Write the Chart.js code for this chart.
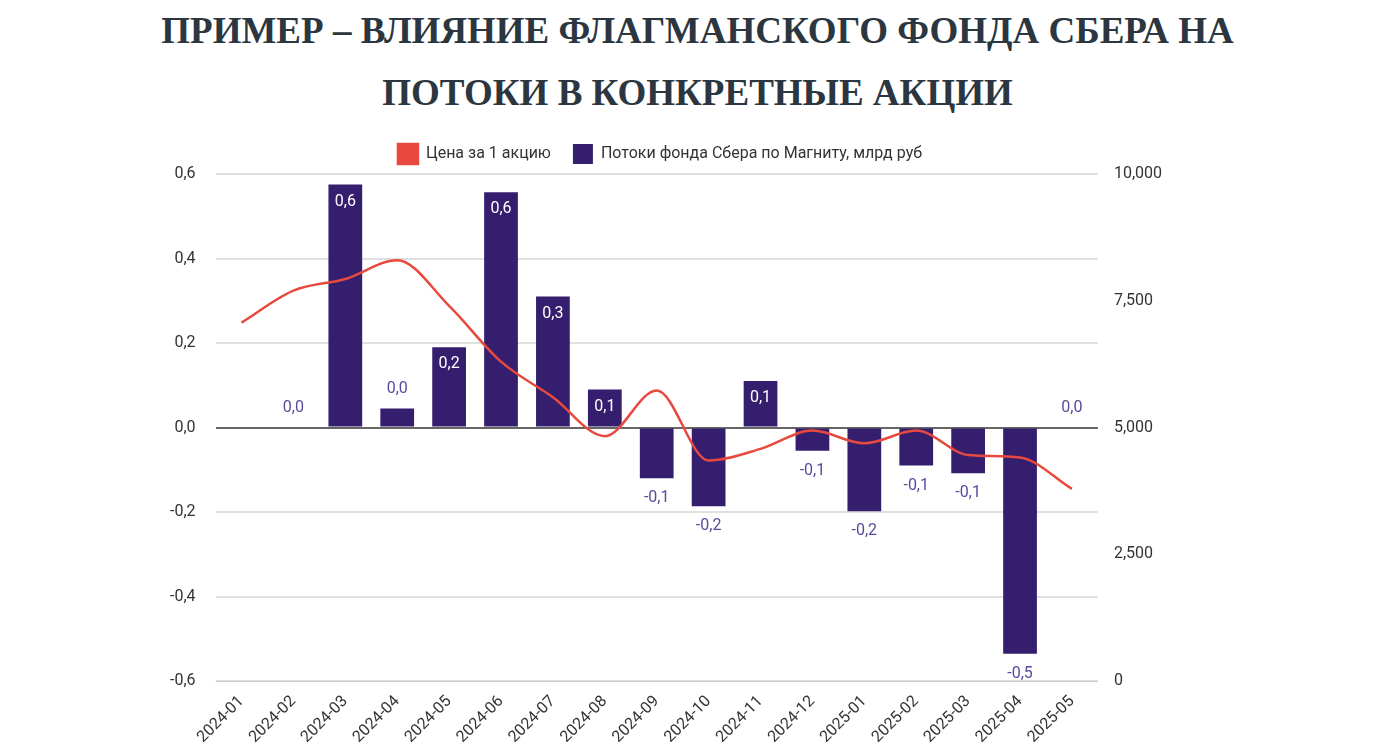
<!DOCTYPE html>
<html>
<head>
<meta charset="utf-8">
<script src="https://cdn.jsdelivr.net/npm/chart.js@4"></script>
<style>
body { margin: 0; background: #fff; }
h1 { font-family: "Liberation Serif", serif; font-weight: bold; color: #2b3640; font-size: 37px; text-align: center; line-height: 62px; margin: 0; padding-top: 0; }
#wrap { position: absolute; left: 150px; top: 122px; width: 1020px; height: 628px; }
</style>
</head>
<body>
<h1>ПРИМЕР – ВЛИЯНИЕ ФЛАГМАНСКОГО ФОНДА СБЕРА НА<br>ПОТОКИ В КОНКРЕТНЫЕ АКЦИИ</h1>
<div id="wrap"><canvas id="c"></canvas></div>
<script>
const months = ['2024-01','2024-02','2024-03','2024-04','2024-05','2024-06','2024-07','2024-08','2024-09','2024-10','2024-11','2024-12','2025-01','2025-02','2025-03','2025-04','2025-05']
const flows = [null, 0, 0.575, 0.045, 0.19, 0.557, 0.31, 0.09, -0.12, -0.186, 0.11, -0.055, -0.198, -0.09, -0.108, -0.535, 0]
const price = [7070, 7700, 7930, 8300, 7400, 6300, 5600, 4830, 5730, 4350, 4580, 4940, 4690, 4940, 4460, 4410, 3790]
const leftTicks = [-0.6, -0.4, -0.2, 0, 0.2, 0.4, 0.6]
const rightTicks = [0, 2500, 5000, 7500, 10000]

const fmt = v => v.toFixed(1).replace('.', ',')

// подписи значений над/в столбцах
const barLabels = {
    id: 'barLabels',
    afterDatasetsDraw(chart) {
        const ctx = chart.ctx
        const meta = chart.getDatasetMeta(0)
        ctx.save()
        ctx.font = '16px Roboto'
        ctx.textAlign = 'center'
        meta.data.forEach((bar, i) => {
            const v = flows[i]
            if (v === null) return
            let y, color
            if (v >= 0.08) { y = bar.y + 17; color = '#ffffff' }
            else if (v >= 0) { y = bar.y - 20; color = '#5a4a9c' }
            else { y = bar.y + 20; color = '#5a4a9c' }
            ctx.fillStyle = color
            ctx.textBaseline = 'middle'
            ctx.fillText(fmt(v), bar.x, y)
        })
        ctx.restore()
    }
}

new Chart(document.getElementById('c'), {
    data: {
        labels: months,
        datasets: [
            { type: 'bar', label: 'Потоки фонда Сбера по Магниту, млрд руб', data: flows, backgroundColor: '#351e6e', yAxisID: 'y', order: 2, barPercentage: 0.65, categoryPercentage: 1 },
            { type: 'line', label: 'Цена за 1 акцию', data: price, borderColor: '#e8493e', backgroundColor: '#e8493e', borderWidth: 2.5, pointRadius: 0, tension: 0.4, cubicInterpolationMode: 'monotone', yAxisID: 'y1', order: 1 }
        ]
    },
    options: {
        responsive: true,
        maintainAspectRatio: false,
        animation: false,
        layout: { padding: { top: 0, right: 0 } },
        plugins: {
            legend: {
                position: 'top',
                labels: { font: { family: 'Roboto', size: 16 }, color: '#333', boxWidth: 20, boxHeight: 20, padding: 22 }
            },
            tooltip: { enabled: false }
        },
        scales: {
            x: {
                grid: { display: false },
                ticks: { font: { family: 'Roboto', size: 16 }, color: '#333', maxRotation: 45, minRotation: 45 }
            },
            y: {
                min: -0.6, max: 0.6,
                afterBuildTicks: axis => { axis.ticks = leftTicks.map(v => ({ value: v })) },
                ticks: { font: { family: 'Roboto', size: 16 }, color: '#333', callback: v => fmt(v), padding: 20 },
                grid: { color: ctx => ctx.tick.value === 0 ? '#666' : '#e0e0e0', lineWidth: ctx => ctx.tick.value === 0 ? 2 : 2, drawTicks: false },
                border: { display: false }
            },
            y1: {
                position: 'right',
                min: 0, max: 10000,
                afterBuildTicks: axis => { axis.ticks = rightTicks.map(v => ({ value: v })) },
                ticks: { font: { family: 'Roboto', size: 16 }, color: '#333', padding: 8 },
                grid: { display: false },
                border: { display: false }
            }
        }
    },
    plugins: [barLabels]
})
</script>
</body>
</html>
